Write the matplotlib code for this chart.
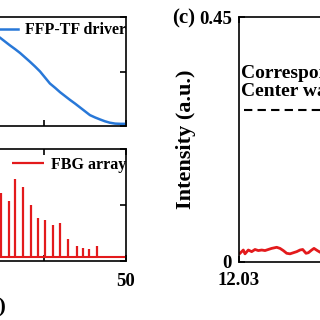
import matplotlib
matplotlib.use("Agg")
import matplotlib.pyplot as plt

# ── Data ──────────────────────────────────────────────────────────────────────
# (a) FFP-TF driver (normalised), read from the visible part of the curve
drv_x = [8.0, 11.6, 13.1, 14.6, 16.2, 17.7, 19.2, 20.7, 22.3, 23.8, 25.3, 26.8, 28.4,
         29.9, 31.4, 32.9, 34.5, 36.0, 37.5, 39.0, 40.6, 42.1, 43.6, 45.1, 46.7, 48.2, 50.0]
drv_y = [0.88, 0.81, 0.775, 0.74, 0.705, 0.67, 0.63, 0.59, 0.545, 0.50, 0.445, 0.39, 0.35,
         0.31, 0.275, 0.24, 0.205, 0.17, 0.135, 0.10, 0.078, 0.06, 0.043, 0.03, 0.022, 0.02, 0.02]

# (b) FBG array reflection peaks
fbg_x = [11.9, 14.3, 16.2, 18.6, 21.0, 23.2, 25.3, 27.7, 29.9, 32.3, 35.1, 36.9, 38.7, 41.2]
fbg_h = [0.61, 0.54, 0.73, 0.66, 0.50, 0.38, 0.37, 0.32, 0.34, 0.20, 0.13, 0.12, 0.11, 0.13]
FBG_BASE = 0.035

# (c) intensity trace (visible start) and centre-wavelength level
wl = [12.03016, 12.03069, 12.03096, 12.03149, 12.03203, 12.03256, 12.03309, 12.03363,
      12.03416, 12.03469, 12.03523, 12.03603, 12.03656, 12.03709, 12.03763, 12.03816,
      12.03869, 12.03923, 12.03976, 12.04019, 12.04072, 12.04109, 12.04163, 12.04200,
      12.04253, 12.04296, 12.04350]
inten = [0.016, 0.022, 0.015, 0.022, 0.019, 0.023, 0.021, 0.022, 0.021, 0.023, 0.025,
         0.027, 0.025, 0.021, 0.016, 0.015, 0.017, 0.019, 0.022, 0.023, 0.016, 0.017,
         0.022, 0.025, 0.021, 0.018, 0.020]
CENTER_LEVEL = 0.28

# ── Style ─────────────────────────────────────────────────────────────────────
plt.rcParams["font.family"] = ["Liberation Serif", "DejaVu Serif"]
plt.rcParams["font.weight"] = "bold"
plt.rcParams["axes.labelweight"] = "bold"
plt.rcParams["axes.linewidth"] = 1.2

BLUE = "#2878d8"
RED = "#e31a1c"
W = H = 320.0

fig = plt.figure(figsize=(3.2, 3.2), dpi=100)
fig.patch.set_facecolor("white")


def px_axes(x0, y0, x1, y1):
    return fig.add_axes([x0 / W, (H - y1) / H, (x1 - x0) / W, (y1 - y0) / H])


def style(ax, top=True, bottom=True):
    ax.tick_params(direction="in", length=4, width=1.2, labelsize=13.5,
                   top=top, bottom=bottom, left=True, right=True)


# ── (a) top left ──────────────────────────────────────────────────────────────
ax1 = px_axes(-38, 17, 126, 126)
ax1.plot(drv_x, drv_y, color=BLUE, lw=1.8, label="FFP-TF driver")
ax1.set_xlim(0, 50)
ax1.set_ylim(0, 1)
ax1.set_xticks([25, 50])
ax1.set_yticks([0, 0.5, 1])
ax1.set_xticklabels([])
ax1.set_yticklabels([])
style(ax1, top=False)
ax1.legend(loc="upper right", bbox_to_anchor=(1.0, 0.95), frameon=False,
           fontsize=11.5, handlelength=2.0, handletextpad=0.45, borderpad=0,
           borderaxespad=0)

# ── (b) bottom left ───────────────────────────────────────────────────────────
ax2 = px_axes(-38, 149, 126, 261)
ax2.axhline(FBG_BASE, color=RED, lw=1.5)
ax2.vlines(fbg_x, FBG_BASE, fbg_h, color=RED, lw=1.6, label="FBG array")
ax2.set_xlim(0, 50)
ax2.set_ylim(0, 1)
ax2.set_xticks([25, 50])
ax2.set_xticklabels(["", "50"])
ax2.set_yticks([0, 0.5, 1])
ax2.set_yticklabels([])
style(ax2)
ax2.tick_params(axis="x", pad=9)
ax2.legend(loc="upper right", bbox_to_anchor=(1.0, 0.93), frameon=False,
           fontsize=11.5, handlelength=2.0, handletextpad=0.45, borderpad=0,
           borderaxespad=0)
fig.text(6 / W, (H - 306) / H, "Time (ms)", ha="right", va="center", fontsize=16)

# ── (c) right ─────────────────────────────────────────────────────────────────
ax3 = px_axes(239, 17, 489, 262)
ax3.plot(wl, inten, color=RED, lw=2.0)
ax3.axhline(CENTER_LEVEL, xmin=0.02, color="black", lw=1.5, dashes=(4, 2.5))
ax3.set_xlim(12.03, 12.07)
ax3.set_ylim(0, 0.45)
ax3.set_xticks([12.03])
ax3.set_xticklabels(["12.03"])
ax3.set_yticks([0, 0.45])
ax3.set_yticklabels(["0", "0.45"])
style(ax3)
ax3.tick_params(axis="y", pad=5)
ax3.tick_params(axis="x", pad=7)
ax3.set_ylabel("Intensity (a.u.)", fontsize=16, labelpad=2)
ax3.text(0.008, 0.771, "Corresponding", transform=ax3.transAxes,
         fontsize=14, va="center", ha="left")
ax3.text(0.008, 0.694, "Center wavelength", transform=ax3.transAxes,
         fontsize=14, va="center", ha="left")
fig.text(172 / W, (H - 18) / H, "(c)", ha="left", va="center", fontsize=15)

fig.savefig("out.png", dpi=100, facecolor="white")
